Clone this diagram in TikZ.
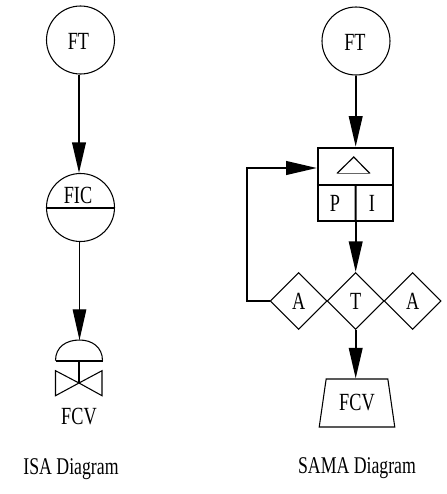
\documentclass[tikz,border=0pt]{standalone}
\usepackage{fontspec}
\setmainfont[FakeStretch=0.74]{Liberation Serif}
\usetikzlibrary{arrows.meta,shapes.geometric}
\tikzset{
  every node/.style={font=\fontsize{18.5}{20}\selectfont, text=black, inner sep=0pt},
  circ/.style={circle,draw,line width=0.8pt,minimum size=51pt},
  dia/.style={diamond,draw,line width=0.8pt,minimum width=42.75pt,minimum height=42.75pt,aspect=1},
  thin line/.style={line width=0.8pt},
  heavy/.style={line width=1.5pt},
  tip/.style={-{Triangle[length=23pt,width=10.2pt]}},
  label text/.style={font=\fontsize{18}{20}\selectfont},
}
\begin{document}
\begin{tikzpicture}[x=0.75pt,y=-0.75pt]
\useasboundingbox (0,0) rectangle (447,494);
% ISA
\node[circ] (ftL) at (80.5,40) {};
\node (ftLt) at (78.5,41) {FT};
\node[circ] (fic) at (80.5,207.5) {};
\node (fict) at (78,195) {FIC};
\draw[heavy] (fic.west) -- (fic.east);
\coordinate (act) at (79.5,340);
\coordinate (actL) at (55.5,360.7);
\coordinate (actR) at (102.5,360.7);
\coordinate (vc) at (79,383);
\draw[heavy,tip] (ftL.south -| vc) -- (fic.north -| vc);
\draw[thin line,tip] (fic.south -| act) -- (act);
\draw[thin line] (actL) .. controls (55.5,347) and (66,340) .. (act) .. controls (92,340) and (102.5,347) .. (actR);
\draw[line width=1.7pt] (actL) -- (actR);
\draw[heavy] (79,360.7) -- (vc);
\draw[thin line] (vc) -- (55.5,370.7) -- (55.5,395.7) -- (vc) -- (102,370.7) -- (102,395.7) -- cycle;
\node (fcvL) at (79,417) {FCV};
\node[label text] (isa) at (71,469) {ISA Diagram};
% SAMA
\node[circ] (ftR) at (356,41) {};
\node (ftRt) at (355,42) {FT};
\node[draw,heavy,rectangle,minimum width=56.4pt,minimum height=54.75pt] (box) at (355.5,184.2) {};
\draw[heavy] (box.west |- 0,185) -- (box.east |- 0,185);
\draw[heavy] (355.7,185) -- (box.south);
\draw[line width=0.9pt] (337,173.5) -- (353.7,157) -- (370,173.5);
\draw[line width=1.3pt,black!60] (337,173.5) -- (370,173.5);
\node (p) at (335,203) {P};
\node (i) at (372,203) {I};
\node[dia] (aL) at (298.7,301) {A};
\node[dia] (t) at (355.7,301) {T};
\node[dia] (aR) at (412.7,301) {A};
\node[trapezium,draw,line width=0.8pt,trapezium left angle=76.6,trapezium right angle=76.6,trapezium stretches=true,minimum width=56.8pt,minimum height=36pt] (fcv) at (357,403) {FCV};
\node[label text] (sama) at (357,468) {SAMA Diagram};
\draw[heavy,tip] (ftR.south -| t.north) -- (box.north -| t.north);
\draw[heavy,tip] (box.south -| t.north) -- (t.north);
\draw[heavy,tip] (t.south) -- (fcv.north -| t.south);
\draw[heavy,tip] (aL.west) -- (246.7,301) -- (246.7,168) -- (box.west |- 0,168);
\end{tikzpicture}
\end{document}
